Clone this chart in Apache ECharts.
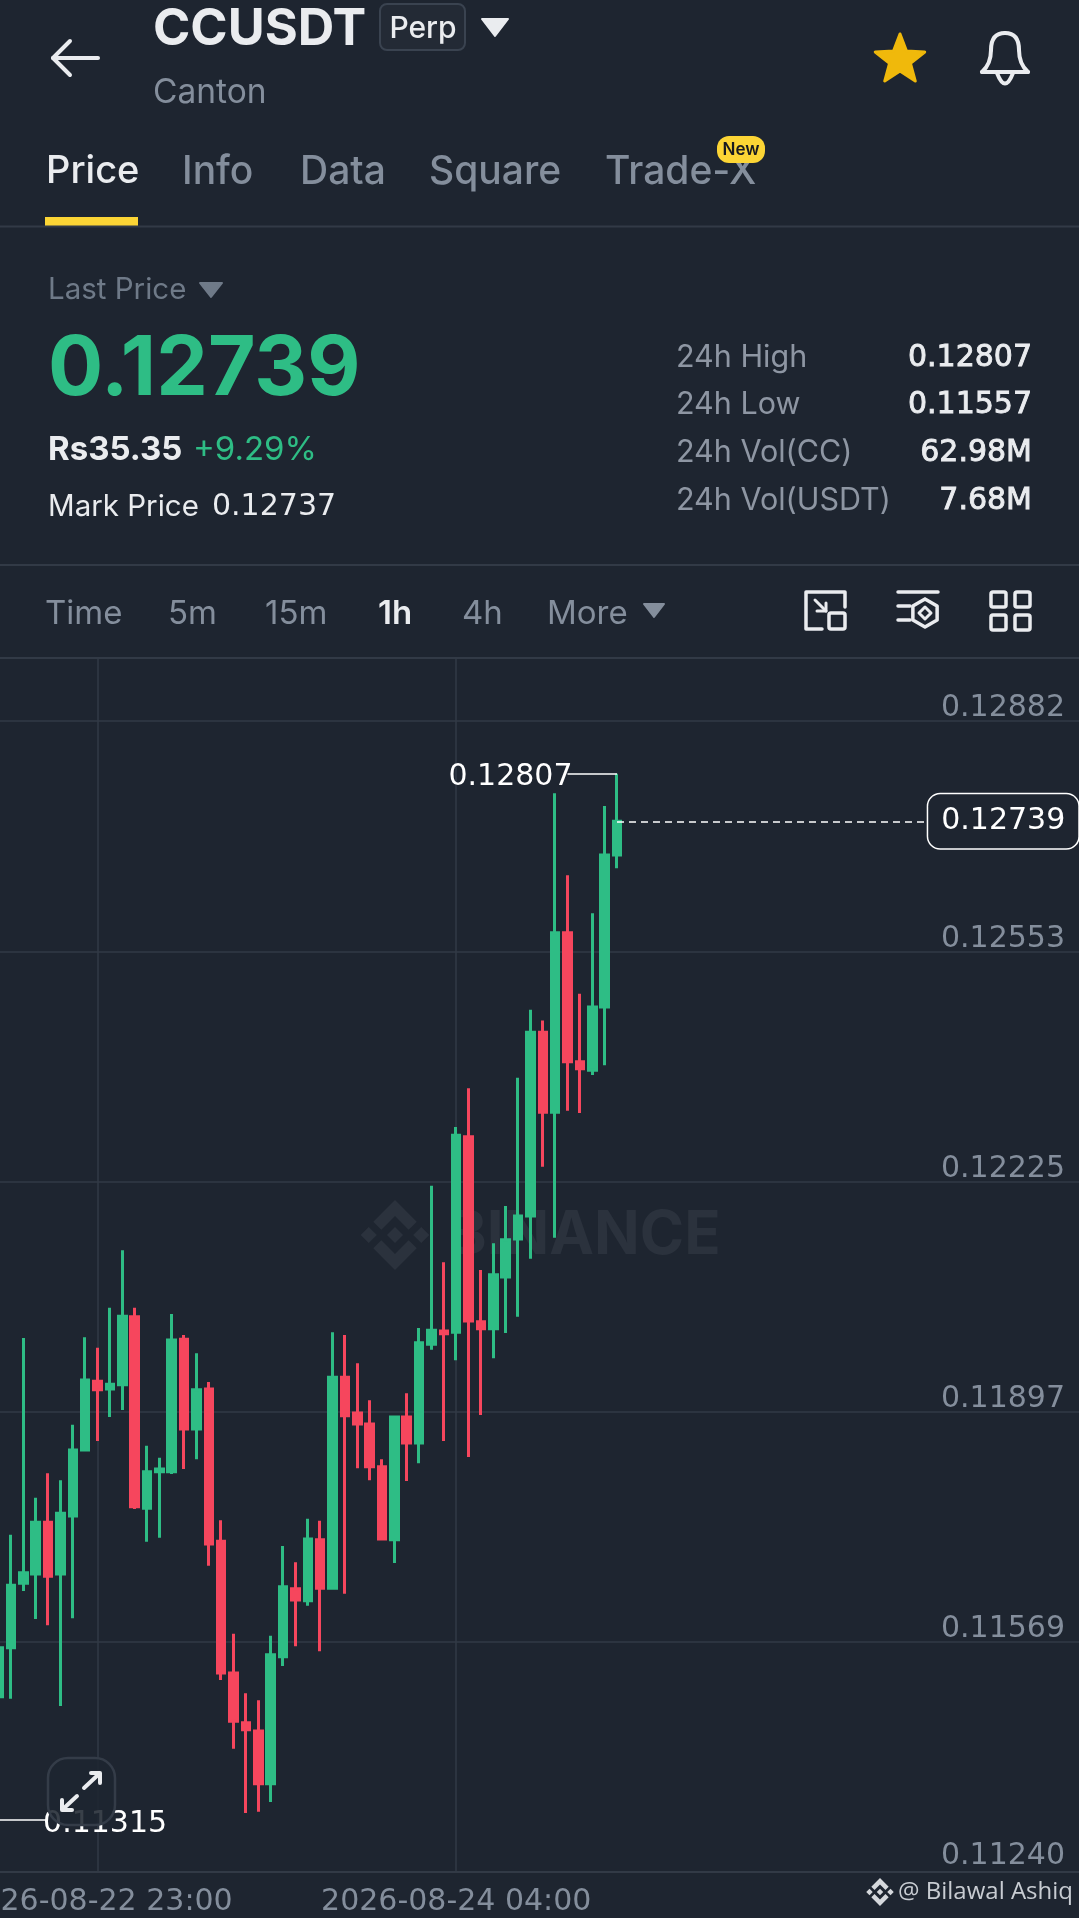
<!DOCTYPE html>
<html><head><meta charset="utf-8">
<style>html,body{margin:0;padding:0;background:#1E2530}#c{width:1079px;height:1918px}</style>
<script src="https://cdn.jsdelivr.net/npm/echarts@6/dist/echarts.min.js"></script>
</head><body><div id="c"></div>
<script>
const times = [
'2026-08-22 15:00','2026-08-22 16:00','2026-08-22 17:00','2026-08-22 18:00','2026-08-22 19:00','2026-08-22 20:00','2026-08-22 21:00','2026-08-22 22:00','2026-08-22 23:00',
'2026-08-23 00:00','2026-08-23 01:00','2026-08-23 02:00','2026-08-23 03:00','2026-08-23 04:00','2026-08-23 05:00','2026-08-23 06:00','2026-08-23 07:00','2026-08-23 08:00','2026-08-23 09:00','2026-08-23 10:00','2026-08-23 11:00','2026-08-23 12:00','2026-08-23 13:00','2026-08-23 14:00','2026-08-23 15:00','2026-08-23 16:00','2026-08-23 17:00','2026-08-23 18:00','2026-08-23 19:00','2026-08-23 20:00','2026-08-23 21:00','2026-08-23 22:00','2026-08-23 23:00',
'2026-08-24 00:00','2026-08-24 01:00','2026-08-24 02:00','2026-08-24 03:00','2026-08-24 04:00','2026-08-24 05:00','2026-08-24 06:00','2026-08-24 07:00','2026-08-24 08:00','2026-08-24 09:00','2026-08-24 10:00','2026-08-24 11:00','2026-08-24 12:00','2026-08-24 13:00','2026-08-24 14:00','2026-08-24 15:00','2026-08-24 16:00','2026-08-24 17:00'];
const labelledTimes = ['2026-08-22 23:00','2026-08-24 04:00'];
// open, close, low, high
const ohlc = [
[0.11490,0.11560,0.11315,0.11611],[0.11560,0.11649,0.11487,0.11721],[0.11652,0.11667,0.11641,0.12002],[0.11665,0.11739,0.11601,0.11774],
[0.11739,0.11662,0.11592,0.11809],[0.11665,0.11752,0.11477,0.11799],[0.11748,0.11842,0.11602,0.11878],[0.11842,0.11942,0.11842,0.12003],
[0.11940,0.11928,0.11855,0.11988],[0.11929,0.11936,0.11889,0.12045],[0.11935,0.12033,0.11899,0.12127],[0.12032,0.11761,0.11758,0.12045],
[0.11759,0.11811,0.11711,0.11848],[0.11811,0.11815,0.11717,0.11831],[0.11811,0.11999,0.11808,0.12036],[0.12000,0.11872,0.11815,0.12006],
[0.11872,0.11928,0.11829,0.11980],[0.11929,0.11708,0.11677,0.11939],[0.11712,0.11524,0.11514,0.11742],[0.11524,0.11455,0.11416,0.11580],
[0.11453,0.11443,0.11324,0.11495],[0.11441,0.11366,0.11326,0.11485],[0.11366,0.11550,0.11340,0.11577],[0.11547,0.11647,0.11534,0.11705],
[0.11644,0.11628,0.11562,0.11682],[0.11627,0.11715,0.11620,0.11744],[0.11714,0.11645,0.11555,0.11741],[0.11645,0.11946,0.11644,0.12010],
[0.11946,0.11891,0.11637,0.12006],[0.11895,0.11879,0.11816,0.11966],[0.11879,0.11818,0.11799,0.11913],[0.11818,0.11715,0.11714,0.11829],
[0.11714,0.11889,0.11681,0.11889],[0.11889,0.11852,0.11798,0.11923],[0.11852,0.11995,0.11823,0.12016],[0.11993,0.12013,0.11985,0.12219],
[0.12012,0.12008,0.11855,0.12110],[0.12010,0.12291,0.11970,0.12303],[0.12289,0.12026,0.11832,0.12358],[0.12025,0.12015,0.11892,0.12099],
[0.12015,0.12092,0.11973,0.12137],[0.12089,0.12142,0.12009,0.12190],[0.12143,0.12176,0.12032,0.12373],[0.12176,0.12438,0.12115,0.12470],
[0.12438,0.12324,0.12246,0.12455],[0.12324,0.12580,0.12145,0.12779],[0.12580,0.12396,0.12326,0.12662],[0.12396,0.12386,0.12323,0.12493],
[0.12384,0.12474,0.12377,0.12608],[0.12474,0.12691,0.12391,0.12761],[0.12691,0.12739,0.12672,0.12807]];
const yTicks = [0.11240,0.11569,0.11897,0.12225,0.12553,0.12882];
const yMin = 0.11240, yMax = 0.12972;
const lastPrice = 0.12739, highPrice = 0.12807, lowPrice = 0.11315;
const tabs = ['Price','Info','Data','Square','Trade-X'];
const intervals = ['Time','5m','15m','1h','4h','More'];
const statLabels = ['24h High','24h Low','24h Vol(CC)','24h Vol(USDT)'];
const statValues = ['0.12807','0.11557','62.98M','7.68M'];

const BG='#1E2530', GRID='#323A46', GREEN='#2EBD85', RED='#F6465D', GRAY='#848E9C', WHITE='#EAECEF', YEL='#FCD535';
const UI='Inter, "Noto Sans", sans-serif', AX='"DejaVu Sans", sans-serif';
const padded = times.concat(Array(38).fill(''));
const lastIdx = times.length-1;

function T(text,x,y,size,fill,weight,align,font,stroke){
  const style={text,fill,font:(weight||400)+' '+size+'px '+(font||UI),textAlign:align||'left',textVerticalAlign:'middle'};
  if(stroke){style.stroke=fill;style.lineWidth=stroke;}
  return {type:'text',x,y,z:60,silent:true,style};
}
function L(x1,y1,x2,y2,stroke,w,z){return {type:'line',z:z||60,silent:true,shape:{x1,y1,x2,y2},style:{stroke,lineWidth:w||2,lineCap:'round'}};}
function P(points,stroke,w,fill,z){return {type:fill?'polygon':'polyline',z:z||60,silent:true,shape:{points},style:{stroke:stroke||null,lineWidth:w||0,fill:fill||null,lineJoin:'round',lineCap:'round'}};}
function R(x,y,width,height,r,stroke,w,fill,z){return {type:'rect',z:z||60,silent:true,shape:{x,y,width,height,r},style:{stroke:stroke||null,lineWidth:w||0,fill:fill||'none'}};}
function B(x1,y1,cpx1,cpy1,x2,y2,stroke,w){return {type:'bezierCurve',z:60,silent:true,shape:{x1,y1,cpx1,cpy1,x2,y2},style:{stroke,lineWidth:w,fill:'none',lineCap:'round'}};}
function Tri(cx,y1,y2,hw,fill){return P([[cx-hw,y1],[cx+hw,y1],[cx,y2]],fill,2,fill);}
function logo(cx,cy,s,fill,z){
  const sh=[[[0,-.23],[.23,0],[0,.23],[-.23,0]],[[-.75,-.23],[-.52,0],[-.75,.23],[-.98,0]],[[.75,-.23],[.98,0],[.75,.23],[.52,0]],
    [[0,-1],[.62,-.38],[.39,-.15],[0,-.54],[-.39,-.15],[-.62,-.38]],[[0,1],[.62,.38],[.39,.15],[0,.54],[-.39,.15],[-.62,.38]]];
  return sh.map(p=>P(p.map(q=>[cx+q[0]*s,cy+q[1]*s]),null,0,fill,z));
}
function star(cx,cy,R1,R2,fill){const p=[];for(let i=0;i<10;i++){const a=-Math.PI/2+i*Math.PI/5,r=i%2?R2:R1;p.push([cx+r*Math.cos(a),cy+r*Math.sin(a)]);}return P(p,fill,3,fill);}
function hex(cx,cy,r,stroke,w){const p=[];for(let i=0;i<6;i++){const a=-Math.PI/2+i*Math.PI/3;p.push([cx+r*Math.cos(a),cy+r*Math.sin(a)]);}p.push(p[0]);return P(p,stroke,w);}

const tabX=[46,182,300,429,605], intX=[45,168,265,378,462,547], statY=[358,405,453,501];
const graphics=[
  // header
  P([[70,41],[53,58],[70,75]],WHITE,4), L(53,58,98,58,WHITE,4),
  T('CCUSDT',153,30,50.5,WHITE,700),
  R(380,4,85,46,7,'#3A4350',2,'#232A35'),
  T('Perp',423,29,30,WHITE,500,'center'),
  Tri(495,19,36,13,WHITE),
  T('Canton',153,93,33.5,GRAY,400),
  star(900,60,26,11,'#F0B90B'),
  B(982,72,991,64,991,50,WHITE,4), B(991,50,991,33,1005,33,WHITE,4), B(1005,33,1019,33,1019,50,WHITE,4), B(1019,50,1019,64,1028,72,WHITE,4),
  L(982,72,1028,72,WHITE,4), B(997,73,1005,94,1013,73,WHITE,4),
  // tabs
  ...tabs.map((t,i)=>T(t,tabX[i],172,i===0?38:39,i===0?WHITE:GRAY,500)),
  R(717,136,48,27,12,null,0,YEL), T('New',741,150,17,'#181A20',600,'center'),
  R(45,217,93,9,0,null,0,YEL), L(0,226.5,1079,226.5,GRID,2),
  // price block
  T('Last Price',48,290,29.5,'#6F7A88',400), Tri(211,283,297,11,'#6F7A88'),
  T(lastPrice.toFixed(5),48,370,82,GREEN,700),
  T('Rs35.35',48,450,33,WHITE,700), T('+9.29%',193,450,33,GREEN,400),
  T('Mark Price',48,507,29.5,WHITE,400), T('0.12737',212,507,30,WHITE,400,'left',AX),
  ...statLabels.map((t,i)=>T(t,676,statY[i],30.5,'#8E96A3',400)),
  ...statValues.map((t,i)=>T(t,1032,statY[i],30,WHITE,400,'right',AX,0.9)),
  L(0,565,1079,565,GRID,2),
  ...intervals.map((t,i)=>T(t,intX[i],614,33,t==='1h'?WHITE:GRAY,t==='1h'?600:400)),
  Tri(654,604,617,10,GRAY),
  // toolbar icons
  P([[845,607],[845,592],[806,592],[806,629],[822,629]],WHITE,3.5),
  R(829,613,16,16,2,WHITE,3.5),
  P([[815,600],[826,611]],WHITE,3), P([[826,603],[826,611],[817,611]],WHITE,3),
  L(898,592,938,592,WHITE,3.5), L(898,606,910,606,WHITE,3.5), L(898,620,910,620,WHITE,3.5),
  hex(925,613,14,WHITE,3.5), P([[925,607],[931,613],[925,619],[919,613],[925,607]],WHITE,3),
  R(991,592,15,15,2,WHITE,3.5), R(1015,592,15,15,2,WHITE,3.5), R(991,615,15,15,2,WHITE,3.5), R(1015,615,15,15,2,WHITE,3.5),
  L(0,658,1079,658,GRID,2),
  // chart watermark
  ...logo(395,1235,35,'#2B323D',1),
  {type:'text',x:447,y:1236,z:1,silent:true,style:{text:'BINANCE',fill:'#2B323D',font:'700 60px '+UI,textVerticalAlign:'middle'}},
  // fullscreen button
  R(48,1758,67,67,20,'#343C48',2.5,'rgba(30,37,48,0.88)',50),
  L(84,1788,99,1774,WHITE,4), P([[91,1773],[100,1773],[100,1783]],WHITE,4),
  L(77,1796,63,1809,WHITE,4), P([[62,1800],[62,1810],[72,1810]],WHITE,4),
  // attribution
  ...logo(880,1892,14,'#D5D8DC',60),
  T('@ Bilawal Ashiq',898,1892,24,'#C8CCD2',400,'left','"Open Sans", sans-serif')
];

const chart=echarts.init(document.getElementById('c'),null,{renderer:'canvas',width:1079,height:1918});
const showIdx=(i)=>labelledTimes.indexOf(padded[i])>=0;
chart.setOption({
  animation:false,
  backgroundColor:BG,
  grid:{left:-1.42,right:-8,top:658,bottom:46,containLabel:false,outerBoundsMode:'none'},
  xAxis:{type:'category',data:padded,boundaryGap:false,
    axisLine:{lineStyle:{color:GRID,width:2}},axisTick:{show:false},
    axisLabel:{interval:(i)=>showIdx(i),color:GRAY,fontFamily:AX,fontSize:30,margin:15,hideOverlap:false},
    splitLine:{show:true,interval:(i)=>showIdx(i),lineStyle:{color:GRID,width:1.5}}},
  yAxis:{type:'value',position:'right',min:yMin,max:yMax,scale:true,
    axisLine:{show:false},axisTick:{show:false,customValues:yTicks},
    axisLabel:{inside:true,customValues:yTicks,
      formatter:(v)=>v===yMin?'{b|'+v.toFixed(5)+'}':v.toFixed(5),
      rich:{b:{color:GRAY,fontFamily:AX,fontSize:30,lineHeight:25,padding:[0,0,6,0]}},
      color:GRAY,fontFamily:AX,fontSize:30,lineHeight:25,margin:22,verticalAlign:'bottom',showMinLabel:true,showMaxLabel:true},
    splitLine:{show:true,lineStyle:{color:GRID,width:1.5}}},
  series:[{type:'candlestick',data:ohlc,barWidth:8,clip:false,
    itemStyle:{color:GREEN,color0:RED,borderColor:GREEN,borderColor0:RED,borderWidth:3},
    markLine:{silent:true,symbol:'none',animation:false,data:[
      [{coord:[lastIdx,lastPrice],lineStyle:{color:'#FFFFFF',type:[7,5],width:1.5},
        label:{show:true,position:'end',distance:2,formatter:()=>lastPrice.toFixed(5),color:'#FFFFFF',fontFamily:AX,fontSize:30,lineHeight:30,backgroundColor:BG,borderColor:'#FFFFFF',borderWidth:1.5,borderRadius:12,padding:[17,13,7,13]}},
       {coord:[75,lastPrice]}],
      [{coord:[lastIdx,highPrice],lineStyle:{color:'#FFFFFF',type:'solid',width:1.5},
        label:{show:true,position:'end',distance:-5,offset:[0,4],formatter:()=>highPrice.toFixed(5),color:'#FFFFFF',fontFamily:AX,fontSize:30}},
       {coord:[46,highPrice]}],
      [{coord:[0,lowPrice],lineStyle:{color:'#FFFFFF',type:'solid',width:1.5},
        label:{show:true,position:'end',distance:-5,offset:[0,5],formatter:()=>lowPrice.toFixed(5),color:'#FFFFFF',fontFamily:AX,fontSize:30}},
       {coord:[4,lowPrice]}]
    ]}}],
  graphic:{elements:graphics}
});
</script></body></html>
